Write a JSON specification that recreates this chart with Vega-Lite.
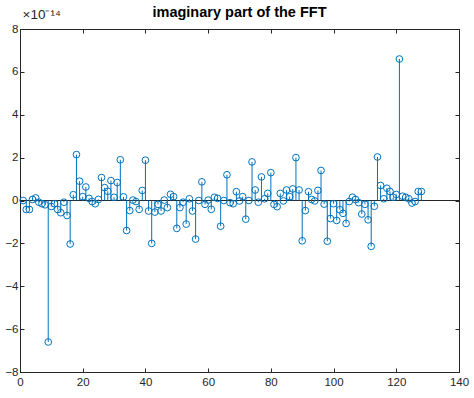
{
  "$schema": "https://vega.github.io/schema/vega-lite/v6.json",
  "autosize": {"type": "none"},
  "padding": {"left": 20, "top": 29, "right": 15, "bottom": 26},
  "width": 439,
  "height": 343,
  "background": "white",
  "config": {
    "view": {"stroke": "#262626", "strokeWidth": 1},
    "font": "Liberation Sans",
    "axis": {"grid": false, "labelFont": "Liberation Sans", "labelFontSize": 11.5, "labelColor": "#262626", "domainColor": "#262626", "tickColor": "#262626", "tickSize": -4, "labelPadding": 6, "domain": true}
  },
  "title": {"text": "imaginary part of the FFT", "font": "Liberation Sans", "fontSize": 14.5, "fontWeight": "bold", "color": "#000000", "offset": -13, "anchor": "middle"},
  "data": {"values": [
    {"k":1,"v":0},{"k":2,"v":-0.42},{"k":3,"v":-0.42},{"k":4,"v":0.05},{"k":5,"v":0.12},{"k":6,"v":-0.08},{"k":7,"v":-0.15},{"k":8,"v":-0.2},{"k":9,"v":-6.6},{"k":10,"v":-0.28},
    {"k":11,"v":-0.15},{"k":12,"v":-0.42},{"k":13,"v":-0.57},{"k":14,"v":-0.08},{"k":15,"v":-0.7},{"k":16,"v":-2.03},{"k":17,"v":0.27},{"k":18,"v":2.14},{"k":19,"v":0.9},{"k":20,"v":0.18},
    {"k":21,"v":0.63},{"k":22,"v":0.1},{"k":23,"v":-0.05},{"k":24,"v":-0.15},{"k":25,"v":0.05},{"k":26,"v":1.07},{"k":27,"v":0.6},{"k":28,"v":0.43},{"k":29,"v":0.93},{"k":30,"v":0.15},
    {"k":31,"v":0.84},{"k":32,"v":1.9},{"k":33,"v":0.17},{"k":34,"v":-1.4},{"k":35,"v":-0.47},{"k":36,"v":0.02},{"k":37,"v":-0.05},{"k":38,"v":-0.41},{"k":39,"v":0.47},{"k":40,"v":1.88},
    {"k":41,"v":-0.49},{"k":42,"v":-2.0},{"k":43,"v":-0.54},{"k":44,"v":-0.18},{"k":45,"v":-0.49},{"k":46,"v":0.02},{"k":47,"v":-0.33},{"k":48,"v":0.29},{"k":49,"v":0.18},{"k":50,"v":-1.3},
    {"k":51,"v":-0.33},{"k":52,"v":-0.08},{"k":53,"v":-1.1},{"k":54,"v":0.08},{"k":55,"v":-0.49},{"k":56,"v":-1.8},{"k":57,"v":0.0},{"k":58,"v":0.87},{"k":59,"v":-0.18},{"k":60,"v":0.02},
    {"k":61,"v":-0.41},{"k":62,"v":0.15},{"k":63,"v":0.1},{"k":64,"v":-1.2},{"k":65,"v":0},{"k":66,"v":1.2},{"k":67,"v":-0.1},{"k":68,"v":-0.15},{"k":69,"v":0.41},{"k":70,"v":-0.02},
    {"k":71,"v":0.18},{"k":72,"v":-0.87},{"k":73,"v":0.0},{"k":74,"v":1.8},{"k":75,"v":0.49},{"k":76,"v":-0.08},{"k":77,"v":1.1},{"k":78,"v":0.08},{"k":79,"v":0.33},{"k":80,"v":1.3},
    {"k":81,"v":-0.18},{"k":82,"v":-0.29},{"k":83,"v":0.33},{"k":84,"v":-0.02},{"k":85,"v":0.49},{"k":86,"v":0.18},{"k":87,"v":0.54},{"k":88,"v":2.0},{"k":89,"v":0.49},{"k":90,"v":-1.88},
    {"k":91,"v":-0.47},{"k":92,"v":0.41},{"k":93,"v":0.05},{"k":94,"v":-0.02},{"k":95,"v":0.47},{"k":96,"v":1.4},{"k":97,"v":-0.17},{"k":98,"v":-1.9},{"k":99,"v":-0.84},{"k":100,"v":-0.15},
    {"k":101,"v":-0.93},{"k":102,"v":-0.43},{"k":103,"v":-0.6},{"k":104,"v":-1.07},{"k":105,"v":-0.05},{"k":106,"v":0.15},{"k":107,"v":0.05},{"k":108,"v":-0.1},{"k":109,"v":-0.63},{"k":110,"v":-0.18},
    {"k":111,"v":-0.9},{"k":112,"v":-2.14},{"k":113,"v":-0.27},{"k":114,"v":2.03},{"k":115,"v":0.7},{"k":116,"v":0.08},{"k":117,"v":0.57},{"k":118,"v":0.42},{"k":119,"v":0.15},{"k":120,"v":0.28},
    {"k":121,"v":6.6},{"k":122,"v":0.2},{"k":123,"v":0.15},{"k":124,"v":0.08},{"k":125,"v":-0.12},{"k":126,"v":-0.05},{"k":127,"v":0.42},{"k":128,"v":0.42}
  ]},
  "resolve": {"axis": {"x": "independent", "y": "independent"}},
  "layer": [
    {
      "mark": {"type": "rule", "color": "#262626", "strokeWidth": 1},
      "encoding": {
        "y": {"datum": 0, "type": "quantitative", "scale": {"domain": [-8, 8], "nice": false}, "axis": null}
      }
    },
    {
      "mark": {"type": "rule", "color": "#0072BD", "strokeWidth": 1},
      "encoding": {
        "x": {"field": "k", "type": "quantitative", "scale": {"domain": [0, 140], "nice": false}, "axis": null},
        "y": {"field": "v", "type": "quantitative", "scale": {"domain": [-8, 8], "nice": false}, "axis": null},
        "y2": {"datum": 0}
      }
    },
    {
      "mark": {"type": "point", "shape": "circle", "filled": false, "stroke": "#0072BD", "strokeWidth": 1, "size": 45, "opacity": 1},
      "encoding": {
        "x": {"field": "k", "type": "quantitative", "scale": {"domain": [0, 140], "nice": false},
              "axis": {"orient": "bottom", "values": [0, 20, 40, 60, 80, 100, 120, 140], "title": null, "labelFlush": false, "labelPadding": 8}},
        "y": {"field": "v", "type": "quantitative", "scale": {"domain": [-8, 8], "nice": false},
              "axis": {"orient": "left", "values": [-8, -6, -4, -2, 0, 2, 4, 6, 8], "title": "×10⁻¹⁴", "titleAngle": 0, "titleAlign": "left", "titleBaseline": "bottom", "titleX": 2, "titleY": -8, "titleFontWeight": "normal", "titleFontSize": 13.5, "titleColor": "#262626", "titleFont": "Liberation Sans", "labelFlush": false}}
      }
    },
    {
      "mark": {"type": "point", "opacity": 0},
      "encoding": {
        "x": {"field": "k", "type": "quantitative", "scale": {"domain": [0, 140], "nice": false},
              "axis": {"orient": "top", "values": [0, 20, 40, 60, 80, 100, 120, 140], "labels": false, "title": null, "minExtent": 0, "maxExtent": 0}},
        "y": {"field": "v", "type": "quantitative", "scale": {"domain": [-8, 8], "nice": false},
              "axis": {"orient": "right", "values": [-8, -6, -4, -2, 0, 2, 4, 6, 8], "labels": false, "title": null, "minExtent": 0, "maxExtent": 0}}
      }
    }
  ]
}
